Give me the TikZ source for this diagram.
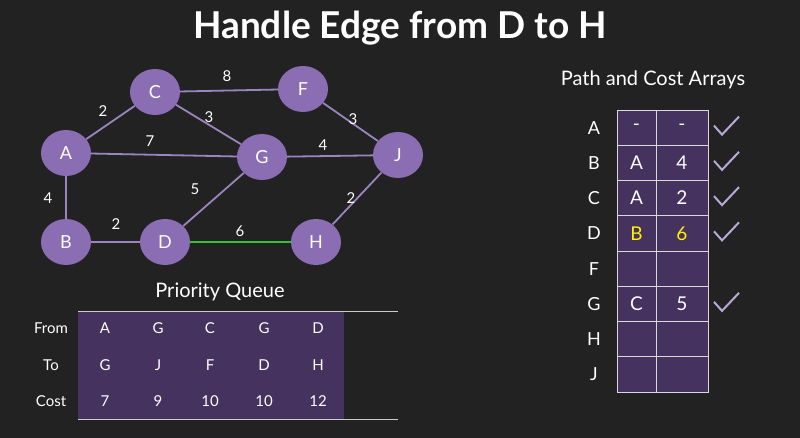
\documentclass[tikz,border=0pt]{standalone}
\usepackage{fontspec}
\setmainfont{Lato}
\usetikzlibrary{shapes.geometric}
\definecolor{bg}{HTML}{222222}
\definecolor{vert}{HTML}{8B6DB3}
\definecolor{cellc}{HTML}{45325F}
\definecolor{chk}{HTML}{B9A8DA}
\definecolor{edgec}{HTML}{9A85BE}
\begin{document}
\begin{tikzpicture}[x=1pt,y=-1pt,
  vtx/.style={ellipse,fill=vert,minimum width=50pt,minimum height=46pt,inner sep=0pt,text=white,font=\fontsize{18}{18}\selectfont},
  ed/.style={edgec,line width=1.8pt},
  wl/.style={text=white,font=\fontsize{15}{15}\selectfont},
  cell/.style={draw=white!85!black,line width=0.8pt,fill=cellc,minimum width=39pt,minimum height=35.25pt,inner sep=0pt,text=white,font=\fontsize{19}{19}\selectfont},
  cellb/.style={cell,minimum width=52pt},
  lab/.style={text=white,font=\fontsize{18}{18}\selectfont},
  ql/.style={text=white,font=\fontsize{15}{15}\selectfont},
  ck/.style={chk,line width=2pt}]
\fill[bg] (0,0) rectangle (800,438);
\useasboundingbox (0,0) rectangle (800,438);
\node[text=white,font=\bfseries\fontsize{37}{37}\selectfont] (title) at (400,28) {Handle Edge from D to H};
% graph
\node[vtx] (C) at (155,92) {C};
\node[vtx] (F) at (303,89) {F};
\node[vtx] (A) at (66,153) {A};
\node[vtx] (G) at (262,157) {G};
\node[vtx] (J) at (398,155) {J};
\node[vtx] (B) at (66,242) {B};
\node[vtx] (D) at (165,242) {D};
\node[vtx] (H) at (316,242) {H};
\draw[ed] (A) -- (C);
\draw[ed] (C) -- (F);
\draw[ed] (C) -- (G);
\draw[ed] (A) -- (G);
\draw[ed] (F) -- (J);
\draw[ed] (G) -- (J);
\draw[ed] (D) -- (G);
\draw[ed] (H) -- (J);
\draw[ed] (A) -- (B);
\draw[ed] (B) -- (D);
\draw[green!70!black!80!white,line width=1.8pt] (D) -- (H);
\node[wl] (w1) at (103,111) {2};
\node[wl] (w2) at (227,76) {8};
\node[wl] (w3) at (209,117) {3};
\node[wl] (w4) at (353,119) {3};
\node[wl] (w5) at (150,141) {7};
\node[wl] (w6) at (323,145) {4};
\node[wl] (w7) at (195,189) {5};
\node[wl] (w8) at (351,198) {2};
\node[wl] (w9) at (48,198) {4};
\node[wl] (w10) at (116,224) {2};
\node[wl] (w11) at (240,231) {6};
% arrays
\node[text=white,font=\fontsize{20}{20}\selectfont] (pt) at (653,80) {Path and Cost Arrays};
\foreach \r/\n/\p/\c [count=\i from 0] in {A/-/-/1,B/A/4/1,C/A/2/1,D/\textcolor{yellow}{B}/\textcolor{yellow}{6}/1,F///0,G/C/5/1,H///0,J///0}{
  \node[cell] (p\i) at (636.5,{127.6+35.25*\i}) {\n};
  \node[cellb] (c\i) at (682,{127.6+35.25*\i}) {\p};
  \node[lab] (r\i) at (594,{127.6+35.25*\i}) {\r};
  \ifnum\c=1
    \coordinate (k\i) at (727,{127.6+35.25*\i});
    \draw[ck] ([shift={(-13,-2)}]k\i) -- ([shift={(-5,7)}]k\i) -- ([shift={(12,-11)}]k\i);
  \fi
}
% priority queue
\node[text=white,font=\fontsize{20}{20}\selectfont] (pq) at (220,292) {Priority Queue};
\fill[cellc] (78,311) rectangle (344,419);
\draw[white!80!black,line width=1pt] (78,311) -- (398,311);
\draw[white!80!black,line width=1pt] (78,419) -- (398,419);
\node[ql] (l1) at (51,328) {From};
\node[ql] (l2) at (51,365) {To};
\node[ql] (l3) at (51,401) {Cost};
\foreach \x/\f/\t/\c [count=\j] in {105/A/G/7,158/G/J/9,210/C/F/10,264/G/D/10,318/D/H/12}{
  \node[ql] (f\j) at (\x,328) {\f};
  \node[ql] (t\j) at (\x,365) {\t};
  \node[ql] (q\j) at (\x,401) {\c};
}
\end{tikzpicture}
\end{document}
